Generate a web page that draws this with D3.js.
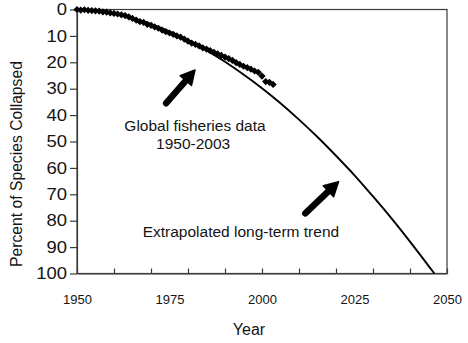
<!DOCTYPE html>
<html>
<head>
<meta charset="utf-8">
<script src="https://cdn.jsdelivr.net/npm/d3@7"></script>
<style>
  html, body { margin: 0; padding: 0; background: #fff; }
  svg { display: block; font-family: "Liberation Sans", Arial, sans-serif; }
</style>
</head>
<body>
<svg id="chart" width="468" height="343"></svg>
<script>
// Observed share of collapsed species, one value per year
const dataYears = d3.range(1950, 2004);
const dataPercent = [
  0.0, 0.2, 0.1, 0.3, 0.4, 0.5, 0.6, 0.9, 1.0, 1.3,
  1.5, 1.7, 2.0, 2.3, 2.8, 3.4, 4.0, 4.6, 4.9, 5.6,
  6.0, 6.6, 7.1, 7.8, 8.4, 8.9, 9.4, 10.0, 10.5, 11.2,
  12.0, 12.7, 13.2, 13.8, 14.5, 15.0, 15.6, 16.2, 16.8, 17.4,
  18.0, 18.6, 19.3, 20.1, 20.8, 21.5, 22.0, 22.6, 23.3, 23.8,
  25.2, 27.3, 27.6, 28.4
];

// Extrapolated long-term trend
const trendYears = [1950, 1955, 1960, 1965, 1970, 1975, 1980, 1985, 1990, 1995,
  2000, 2005, 2010, 2015, 2020, 2025, 2030, 2035, 2040, 2045, 2046.6];
const trendPercent = [0, 0.4, 1.5, 3.3, 5.5, 8.3, 11.6, 15.5, 19.8, 24.6,
  29.8, 35.5, 41.7, 48.3, 55.4, 62.8, 70.8, 79.1, 87.9, 97.1, 100];

// Axis ticks
const yTicks = [0, 10, 20, 30, 40, 50, 60, 70, 80, 90, 100];
const xTickMarks = d3.range(1950, 2051, 10);
const xTickLabels = [1950, 1975, 2000, 2025, 2050];

const svg = d3.select("#chart");
const margin = { left: 77, top: 9.5, right: 21, bottom: 69.5 };
const W = 468 - margin.left - margin.right;
const H = 343 - margin.top - margin.bottom;

const x = d3.scaleLinear().domain([1950, 2050]).range([0, W]);
const y = d3.scaleLinear().domain([0, 100]).range([0, H]);

const g = svg.append("g").attr("transform", `translate(${margin.left},${margin.top})`);
const ink = "#141414";
const axisInk = "#3a3a3a";

// Plot frame
g.append("rect")
  .attr("x", 0).attr("y", 0).attr("width", W).attr("height", H)
  .attr("fill", "none").attr("stroke", axisInk).attr("stroke-width", 1.2);

// Y axis
const yAxis = g.append("g")
  .call(d3.axisLeft(y).tickValues(yTicks).tickSize(7).tickSizeOuter(0).tickPadding(3));
yAxis.select(".domain").attr("stroke", axisInk).attr("stroke-width", 1.2);
yAxis.selectAll(".tick line").attr("stroke", axisInk).attr("stroke-width", 1.2);
yAxis.selectAll(".tick text")
  .attr("fill", ink).attr("font-size", 16.5)
  .attr("transform", "translate(-10,0) scale(1.12,1) translate(10,0)");

// X axis: inward tick marks every ten years
const xAxis = g.append("g").attr("transform", `translate(0,${H})`)
  .call(d3.axisBottom(x).tickValues(xTickMarks).tickSize(-5).tickSizeOuter(0).tickFormat(""));
xAxis.select(".domain").attr("stroke", axisInk).attr("stroke-width", 1.2);
xAxis.selectAll(".tick line").attr("stroke", axisInk).attr("stroke-width", 1.2);

// X axis labels every 25 years
const xLab = g.append("g").attr("transform", `translate(0,${H})`)
  .call(d3.axisBottom(x).tickValues(xTickLabels).tickSize(0).tickPadding(21).tickFormat(d3.format("d")));
xLab.select(".domain").remove();
xLab.selectAll(".tick text").attr("fill", ink).attr("font-size", 13);

// Axis titles
svg.append("text")
  .attr("x", 249).attr("y", 335)
  .attr("text-anchor", "middle").attr("font-size", 16).attr("fill", ink)
  .text("Year");
svg.append("text")
  .attr("transform", "translate(21.5,164) rotate(-90)")
  .attr("text-anchor", "middle").attr("font-size", 15.7).attr("fill", ink)
  .text("Percent of Species Collapsed");

// Trend line
const trend = trendYears.map((t, i) => [t, trendPercent[i]]);
g.append("path")
  .datum(trend)
  .attr("fill", "none").attr("stroke", "#000").attr("stroke-width", 1.9)
  .attr("d", d3.line().x(d => x(d[0])).y(d => y(d[1])).curve(d3.curveMonotoneX));

// Data markers: small diamonds
const diamond = {
  draw(ctx, size) {
    const r = Math.sqrt(size) / 2;
    ctx.moveTo(0, -r); ctx.lineTo(r, 0); ctx.lineTo(0, r); ctx.lineTo(-r, 0); ctx.closePath();
  }
};
g.append("g").selectAll("path")
  .data(dataYears.map((t, i) => [t, dataPercent[i]]))
  .join("path")
  .attr("transform", d => `translate(${x(d[0])},${y(d[1])})`)
  .attr("d", d3.symbol().type(diamond).size(52))
  .attr("fill", "#000");

// Annotation arrows
function arrow(x0, y0, x1, y1) {
  const X0 = x(x0), Y0 = y(y0), X1 = x(x1), Y1 = y(y1);
  const dx = X1 - X0, dy = Y1 - Y0, L = Math.hypot(dx, dy);
  const ux = dx / L, uy = dy / L, px = -uy, py = ux;
  const headLen = 14, headHalf = 7.5;
  const bx = X1 - ux * headLen, by = Y1 - uy * headLen;
  g.append("line")
    .attr("x1", X0).attr("y1", Y0).attr("x2", bx + ux * 2).attr("y2", by + uy * 2)
    .attr("stroke", "#000").attr("stroke-width", 6.5).attr("stroke-linecap", "round");
  g.append("path")
    .attr("d", `M${X1},${Y1}L${bx + px * headHalf},${by + py * headHalf}L${bx - px * headHalf},${by - py * headHalf}Z`)
    .attr("fill", "#000").attr("stroke", "#000").attr("stroke-width", 1.5).attr("stroke-linejoin", "round");
}
arrow(1974.1, 35.5, 1981.9, 22.9);
arrow(2011.7, 77.2, 2020.7, 65.2);

// Annotation labels
function label(t, v, txt) {
  g.append("text")
    .attr("x", x(t)).attr("y", y(v))
    .attr("text-anchor", "middle").attr("font-size", 15.5).attr("fill", ink)
    .text(txt);
}
label(1981.9, 46.0, "Global fisheries data");
label(1981.4, 52.9, "1950-2003");
label(1994.3, 86.0, "Extrapolated long-term trend");
</script>
</body>
</html>
